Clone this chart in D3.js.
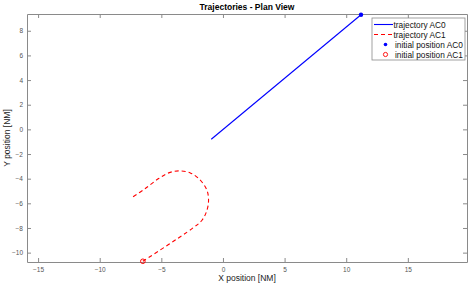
<!DOCTYPE html>
<html>
<head>
<meta charset="utf-8">
<script src="https://cdn.jsdelivr.net/npm/d3@7"></script>
<style>
  body { margin: 0; background: #fff; }
  text { font-family: "Liberation Sans", Arial, sans-serif; }
</style>
</head>
<body>
<div id="chart"></div>
<script>
// data (NM)
var ac0X = [11.2, -0.95];
var ac0Y = [9.3, -0.8];
var ac1X = [-6.5, -2.51, -1.7, -1.3, -1.17, -1.3, -1.84, -2.65, -3.6, -4.41, -5.22, -6.3, -7.38];
var ac1Y = [-10.7, -8.05, -7.37, -6.56, -5.75, -4.94, -4.12, -3.53, -3.37, -3.53, -3.99, -4.8, -5.53];
var xTicks = [-15, -10, -5, 0, 5, 10, 15];
var yTicks = [-10, -8, -6, -4, -2, 0, 2, 4, 6, 8];
var legendLabels = ["trajectory AC0", "trajectory AC1", "initial position AC0", "initial position AC1"];

var W = 474, H = 289;
var margin = {top: 14, right: 7, bottom: 27, left: 27},
    width = W - margin.left - margin.right,
    height = H - margin.top - margin.bottom;

var x = d3.scaleLinear().domain([-15.9, 19.8]).range([0, width]);
var y = d3.scaleLinear().domain([-10.76, 9.36]).range([height, 0]);

var svg = d3.select("#chart").append("svg")
    .attr("width", W)
    .attr("height", H);

var g = svg.append("g")
    .attr("transform", "translate(" + margin.left + "," + margin.top + ")");

g.append("rect")
    .attr("width", width).attr("height", height)
    .attr("fill", "#fff");

// axes (ticks inside, box on)
function styleAxis(sel, showText) {
  sel.select(".domain").attr("stroke", "#8a8a8a");
  sel.selectAll(".tick line").attr("stroke", "#8a8a8a");
  sel.selectAll(".tick text")
      .attr("fill", "#555")
      .style("font-size", "6.5px")
      .style("display", showText ? null : "none");
}

g.append("g")
    .attr("transform", "translate(0," + height + ")")
    .call(d3.axisBottom(x).tickValues(xTicks).tickSizeInner(-4).tickSizeOuter(0).tickPadding(5))
    .call(styleAxis, true);
g.append("g")
    .call(d3.axisTop(x).tickValues(xTicks).tickSizeInner(-4).tickSizeOuter(0))
    .call(styleAxis, false);
g.append("g")
    .call(d3.axisLeft(y).tickValues(yTicks).tickSizeInner(-4).tickSizeOuter(0).tickPadding(4))
    .call(styleAxis, true);
g.append("g")
    .attr("transform", "translate(" + width + ",0)")
    .call(d3.axisRight(y).tickValues(yTicks).tickSizeInner(-4).tickSizeOuter(0))
    .call(styleAxis, false);

// lines
var line = d3.line()
    .x(function(d) { return x(d[0]); })
    .y(function(d) { return y(d[1]); });

var ac0 = d3.zip(ac0X, ac0Y);
var ac1 = d3.zip(ac1X, ac1Y);

g.append("path")
    .datum(ac0)
    .attr("d", line)
    .attr("fill", "none")
    .attr("stroke", "#0000ff")
    .attr("stroke-width", 1.1);

g.append("path")
    .datum(ac1)
    .attr("d", line.curve(d3.curveCatmullRom))
    .attr("fill", "none")
    .attr("stroke", "#ff0000")
    .attr("stroke-width", 1.1)
    .attr("stroke-dasharray", "4,3");

// initial positions
g.append("circle")
    .attr("cx", x(ac0X[0])).attr("cy", y(ac0Y[0]))
    .attr("r", 2.2)
    .attr("fill", "#0000ff");

g.append("circle")
    .attr("cx", x(ac1X[0])).attr("cy", y(ac1Y[0]))
    .attr("r", 2.3)
    .attr("fill", "none")
    .attr("stroke", "#ff0000")
    .attr("stroke-width", 1);

// title and axis labels
svg.append("text")
    .attr("x", margin.left + width / 2)
    .attr("y", 10)
    .attr("text-anchor", "middle")
    .style("font-size", "8.5px")
    .style("font-weight", "bold")
    .text("Trajectories - Plan View");

svg.append("text")
    .attr("x", margin.left + width / 2)
    .attr("y", 281)
    .attr("text-anchor", "middle")
    .style("font-size", "8.5px")
    .attr("fill", "#222")
    .text("X position [NM]");

svg.append("text")
    .attr("transform", "translate(10," + (margin.top + height / 2) + ") rotate(-90)")
    .attr("text-anchor", "middle")
    .style("font-size", "8.5px")
    .attr("fill", "#222")
    .text("Y position [NM]");

// legend
var lg = svg.append("g").attr("transform", "translate(372,18)");
lg.append("rect")
    .attr("width", 93).attr("height", 42)
    .attr("fill", "#fff")
    .attr("stroke", "#8a8a8a")
    .attr("stroke-width", 0.8);

var rows = [6.5, 16.5, 26.5, 36.5];
lg.append("line").attr("x1", 2).attr("x2", 21).attr("y1", rows[0]).attr("y2", rows[0])
    .attr("stroke", "#0000ff").attr("stroke-width", 1.1);
lg.append("line").attr("x1", 2).attr("x2", 21).attr("y1", rows[1]).attr("y2", rows[1])
    .attr("stroke", "#ff0000").attr("stroke-width", 1.1).attr("stroke-dasharray", "4,3");
lg.append("circle").attr("cx", 13.5).attr("cy", rows[2]).attr("r", 1.8).attr("fill", "#0000ff");
lg.append("circle").attr("cx", 13.5).attr("cy", rows[3]).attr("r", 2.1)
    .attr("fill", "none").attr("stroke", "#ff0000").attr("stroke-width", 0.9);

lg.selectAll("text.lbl")
    .data(legendLabels)
    .enter().append("text")
    .attr("class", "lbl")
    .attr("x", function(d, i) { return i < 2 ? 21.5 : 23; })
    .attr("y", function(d, i) { return rows[i] + 3; })
    .style("font-size", "8.3px")
    .attr("fill", "#111")
    .text(function(d) { return d; });
</script>
</body>
</html>
